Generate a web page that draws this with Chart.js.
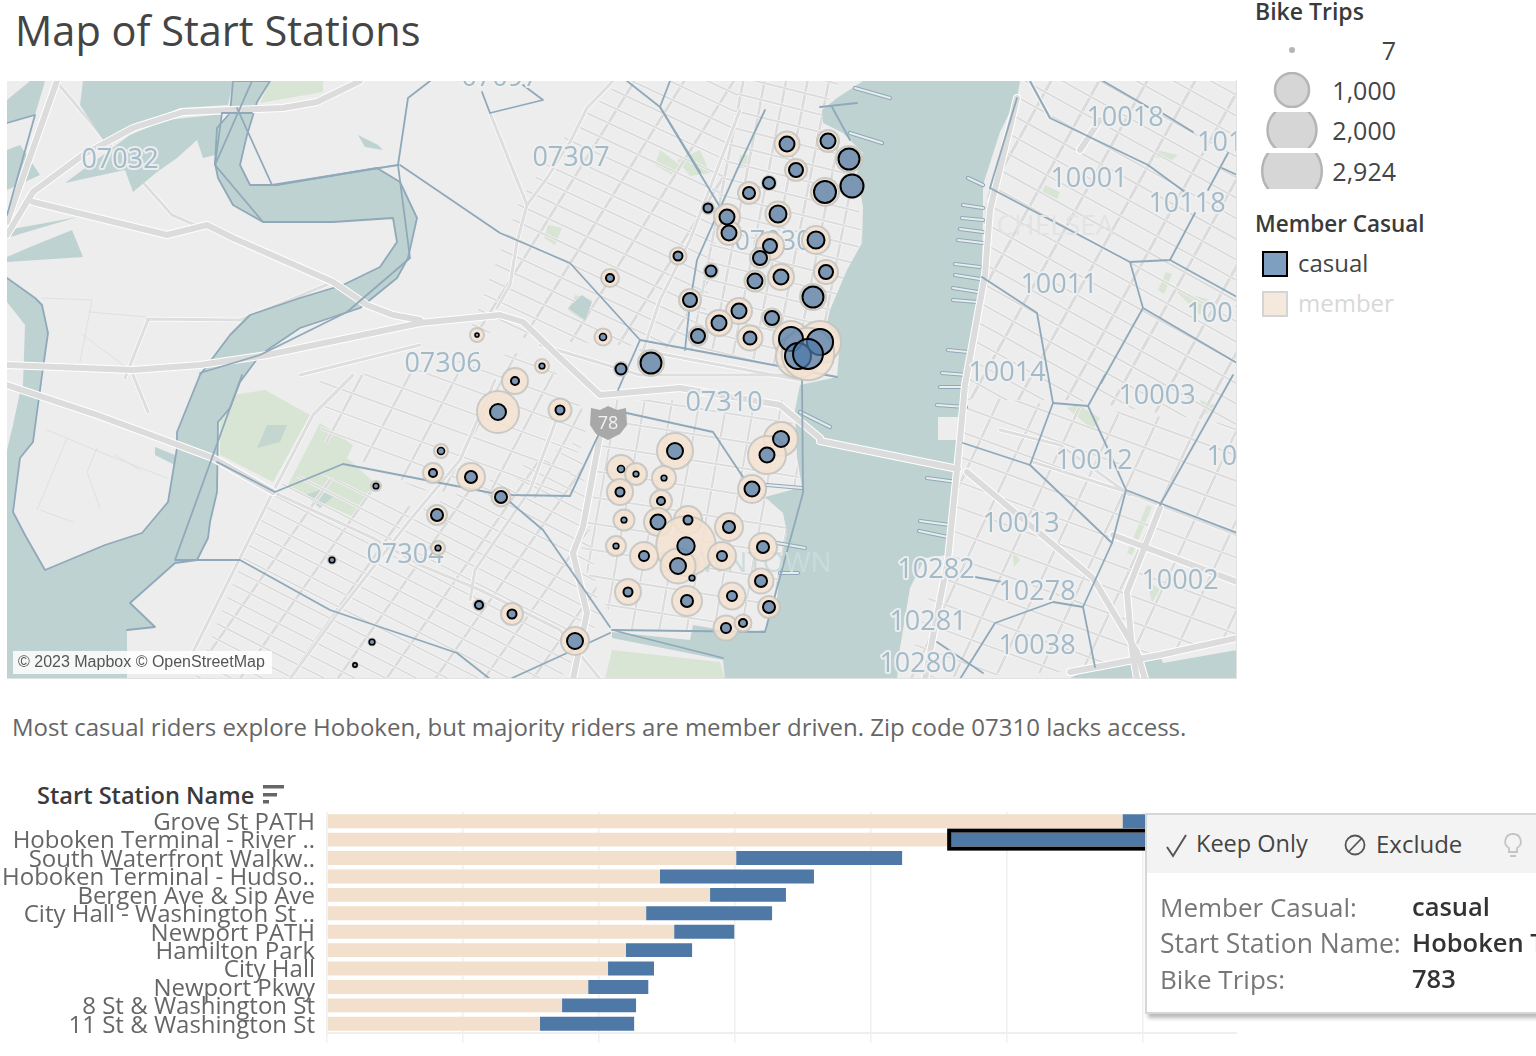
<!DOCTYPE html>
<html>
<head>
<meta charset="utf-8">
<title>Map of Start Stations</title>
<script src="https://cdn.jsdelivr.net/npm/chart.js@4"></script>
<style>
  html, body { margin:0; padding:0; width:1536px; height:1056px; overflow:hidden; background:#fff; }
  body { position:relative; font-family:'Open Sans',sans-serif; color:#333; }
  .abs { position:absolute; white-space:nowrap; line-height:1; }
  canvas { position:absolute; display:block; }
  #tip { position:absolute; left:1145px; top:813px; width:400px; height:197px; background:#fff; border:2px solid #d6d6d6; box-shadow:3px 4px 4px rgba(0,0,0,.28); overflow:hidden; }
  #tipHead { position:absolute; left:0; top:0; right:0; height:58px; background:#f3f3f3; }
</style>
</head>
<body>
<div class="abs" id="title" style="left:15px;top:10px;font-size:41.5px;color:#444;">Map of Start Stations</div>
<div class="abs" id="subtitle" style="left:12px;top:715px;font-size:24px;color:#666;">Most casual riders explore Hoboken, but majority riders are member driven. Zip code 07310 lacks access.</div>
<div class="abs" id="axisTitle" style="left:37px;top:784px;font-size:23.6px;color:#3a3a3a;font-weight:600;">Start Station Name</div>
<svg style="position:absolute;left:263px;top:785px" width="22" height="20"><rect x="0" y="0" width="21" height="3.5" fill="#666"/><rect x="0" y="8" width="14" height="3.5" fill="#666"/><rect x="0" y="15" width="6" height="3.5" fill="#666"/></svg>

<canvas id="mapChart" width="1230" height="598" style="left:7px;top:81px"></canvas>
<canvas id="barChart" width="1237" height="240" style="left:0;top:805px"></canvas>
<div style="position:absolute;left:1236px;top:80px;width:1px;height:599px;background:#e2e2e2"></div>
<div style="position:absolute;left:7px;top:678px;width:1230px;height:1px;background:#e2e2e2"></div>
<div id="legend"></div>

<div id="tip">
  <div id="tipHead"></div>
  <svg style="position:absolute;left:18px;top:18px" width="24" height="26"><path d="M2 14 L8 23 L21 2" fill="none" stroke="#555" stroke-width="2"/></svg>
  <div class="abs" style="left:49px;top:17px;font-size:23.5px;color:#444">Keep Only</div>
  <svg style="position:absolute;left:197px;top:19px" width="24" height="24"><circle cx="11" cy="11" r="9.5" fill="none" stroke="#555" stroke-width="1.8"/><path d="M4.5 18 L18 4" stroke="#555" stroke-width="1.8"/></svg>
  <div class="abs" style="left:229px;top:17px;font-size:24px;color:#444">Exclude</div>
  <svg style="position:absolute;left:356px;top:17px" width="22" height="28"><path d="M10 2 a7.5 7.5 0 0 1 4 14 v4 h-8 v-4 a7.5 7.5 0 0 1 4 -14z M7 24 h6" fill="none" stroke="#c4c4c4" stroke-width="1.8"/></svg>
  <div class="abs tipK" style="left:13px;top:79px;font-size:26px;color:#777">Member Casual:</div>
  <div class="abs tipV" style="left:265px;top:79px;font-size:25.5px;color:#333;font-weight:600">casual</div>
  <div class="abs tipK" style="left:13px;top:115px;font-size:26.5px;color:#777">Start Station Name:</div>
  <div class="abs tipV" style="left:265px;top:115px;font-size:25.5px;color:#333;font-weight:600">Hoboken Terminal - River Street</div>
  <div class="abs tipK" style="left:13px;top:151px;font-size:26px;color:#777">Bike Trips:</div>
  <div class="abs tipV" style="left:265px;top:151px;font-size:25.5px;color:#333;font-weight:600">783</div>
</div>

<script>
// ---- bar chart data (bike trips per start station)
const barStations = ['Grove St PATH','Hoboken Terminal - River ..','South Waterfront Walkw..','Hoboken Terminal - Hudso..','Bergen Ave & Sip Ave','City Hall - Washington St ..','Newport PATH','Hamilton Park','City Hall','Newport Pkwy','8 St & Washington St','11 St & Washington St'];
const barMember = [2924,2287,1504,1224,1408,1173,1276,1099,1033,960,864,783];
const barCasual = [290,783,610,566,279,463,221,243,169,221,272,346];
const barTicks = [0,500,1000,1500,2000,2500,3000];

// ---- map stations, position in map units and trips per rider type
const stationX = [787,828,849,796,769,749,825,852,778,708,727,729,816,770,760,678,711,826,781,755,610,813,690,739,772,719,698,750,791,820,798,808,603,651,621,477,542,515,498,560,441,433,471,376,501,437,438,332,479,512,575,372,355,781,767,675,621,636,664,620,752,661,624,658,688,729,616,686,763,644,722,678,692,761,628,732,687,769,726,743];
const stationY = [144,141,159,170,183,193,192,186,214,208,217,233,240,246,258,256,271,272,277,281,278,297,300,311,318,323,336,338,339,342,356,354,337,363,369,335,366,381,412,410,451,473,477,486,497,515,548,560,605,614,641,642,665,439,455,451,469,474,478,492,489,501,520,522,520,527,546,546,547,556,556,566,578,581,592,596,601,607,628,623];
const stationCasual = [222,222,407,197,151,151,443,481,278,93,222,222,278,197,197,93,130,197,222,222,77,407,197,222,197,222,197,173,520,610,603,783,62,407,130,28,45,77,249,93,62,77,151,45,151,151,45,45,77,93,249,45,30,249,222,249,62,45,45,93,222,77,45,222,93,151,45,290,151,111,111,249,45,151,93,111,151,151,111,77];
const stationMember = [561,443,603,443,197,443,693,520,561,151,603,520,693,693,372,278,197,520,603,407,308,603,443,603,339,603,339,561,1111,1504,1629,2287,278,603,197,197,197,603,1490,481,197,372,693,111,339,372,197,77,130,443,693,62,38,997,1231,1111,693,443,520,603,693,443,407,693,693,693,372,2924,693,693,693,1054,45,561,603,647,788,443,561,278];

// ---- legend
const sizeLegendValues = [7,1000,2000,2924];
const sizeLegendLabels = ['7','1,000','2,000','2,924'];
const riderTypes = ['casual','member'];

// ---- base map geometry, in map units
const hudson = [[863,81],[1020,81],[1017,98],[1000,132],[983,185],[983,215],[982,275],[975,315],[967,385],[963,442],[957,482],[950,525],[947,555],[925,558],[910,588],[900,648],[897,679],[725,679],[723,660],[612,638],[612,632],[690,640],[693,625],[740,633],[765,630],[777,600],[780,567],[787,533],[783,513],[765,497],[802,487],[797,457],[795,410],[800,385],[837,377],[840,343],[827,323],[830,310],[847,270],[862,243],[863,207],[857,173],[863,153],[843,133],[823,123],[822,110],[837,98]];
const hackensack = [[7,679],[127,679],[127,630],[155,627],[130,603],[175,563],[197,560],[208,538],[210,522],[217,492],[218,422],[230,408],[240,382],[260,355],[300,328],[360,308],[397,278],[408,258],[417,218],[400,182],[377,168],[277,185],[250,185],[240,165],[247,135],[257,102],[270,81],[233,81],[230,113],[217,128],[215,163],[218,178],[233,205],[263,222],[333,222],[393,218],[397,242],[380,267],[343,285],[300,298],[250,315],[230,335],[200,375],[177,432],[177,448],[168,502],[142,533],[105,545],[45,570],[25,535],[13,512],[20,458],[33,442],[42,375],[48,333],[42,305],[35,298],[7,278]];
const otherWater = [
  [[83,81],[233,81],[228,105],[180,108],[128,130],[105,143],[90,120],[80,105]],
  [[233,113],[222,113],[215,155],[203,158],[197,140],[177,158],[157,172],[133,192],[125,170],[65,183],[130,135],[165,120]],
  [[7,100],[30,81],[45,81],[35,115],[7,122]],
  [[7,150],[20,145],[40,175],[7,190]],
  [[7,257],[30,247],[72,230],[83,257],[7,262]],
  [[7,230],[78,217],[40,228],[7,238]],
  [[568,308],[582,295],[592,302],[585,320]],
  [[358,135],[378,145],[383,150],[365,147]],
  [[1068,679],[1095,667],[1160,655],[1163,663],[1237,650],[1237,679]],
  [[155,447],[175,455],[175,465],[155,455]]
];
const landOnWater = [
  [[7,302],[25,325],[23,385],[20,392],[13,425],[7,450]],
  [[938,417],[963,417],[963,440],[938,440]]
];
const parks = [
  [[233,395],[265,390],[310,415],[273,482],[220,455],[220,418]],
  [[320,423],[353,445],[347,458],[377,485],[353,517],[287,487]],
  [[270,81],[323,81],[323,92],[260,103]],
  [[612,650],[720,662],[725,679],[605,679]],
  [[677,160],[700,150],[710,173],[690,176]],
  [[1166,272],[1172,274],[1164,294],[1158,290]],
  [[1067,408],[1078,405],[1100,418],[1093,430]],
  [[1147,505],[1152,507],[1132,555],[1127,553]],
  [[985,205],[990,205],[988,245],[984,245]],
  [[1148,580],[1160,590],[1152,603],[1150,595]],
  [[575,295],[592,300],[585,322],[568,310]],
  [[548,225],[562,228],[555,245],[544,238]],
  [[1012,548],[1020,560],[1014,567]],
  [[1157,150],[1178,155],[1172,160],[1155,157]],
  [[1045,185],[1060,192],[1057,199],[1042,192]],
  [[1200,400],[1215,405],[1205,415]],
  [[1175,290],[1210,300],[1200,315]],
  [[660,150],[680,165],[672,175],[655,165]],
  [[740,155],[750,155],[748,168],[738,168]]
];
const parkPonds = [[[267,425],[287,425],[280,442],[257,448]],[[305,495],[320,508],[333,497],[320,490]]];

// street grids: clip area, then families of parallel streets [angle, spacing, width]
const streetGrids = [
  { area:[[470,330],[520,200],[570,130],[620,81],[740,81],[700,350],[540,340]], lines:[[-58,42,3.2],[25,16,2]] },
  { area:[[740,81],[840,81],[822,110],[855,170],[862,240],[830,310],[835,375],[690,350]], lines:[[-79,21,2.8],[14,17,2]] },
  { area:[[600,400],[790,400],[800,490],[780,600],[750,630],[620,630],[580,560]], lines:[[-80,27,2.4],[9,26,2]] },
  { area:[[195,679],[270,490],[310,470],[420,510],[580,440],[600,620],[560,679]], lines:[[-55,40,3],[27,14,1.8]] },
  { area:[[320,380],[540,350],[590,420],[560,500],[420,490],[320,440]], lines:[[-62,42,2.8],[20,22,1.8]] },
  { area:[[1020,81],[1237,81],[1237,425],[1075,400],[1040,400],[965,400],[982,215]], lines:[[-61,42,3.4],[29,18,2]] },
  { area:[[965,395],[1237,425],[1237,640],[1060,672],[905,679],[950,525]], lines:[[-65,38,2.8],[20,24,2]] }
];
const faintRoads = [
  [[42,298],[92,300],[80,362]],[[90,312],[147,317]],[[83,335],[127,368]],[[67,438],[37,510]],
  [[47,430],[100,452],[167,478]],[[40,510],[73,522]],[[97,448],[87,472],[100,508]],[[115,455],[140,470]]
];
const majorRoads = [
  [[7,235],[33,192],[83,155],[133,128],[183,112],[283,108],[317,102],[360,81]],
  [[57,81],[7,222]],
  [[33,202],[167,235],[207,225],[233,238],[283,260],[333,282],[367,305],[393,315],[420,320]],
  [[7,365],[133,370],[200,365],[267,355],[420,323],[500,315],[523,322],[557,355],[600,395],[680,388],[780,405],[820,438]],
  [[820,441],[958,469]],
  [[603,420],[583,527],[573,553],[587,613],[573,679]],
  [[1017,98],[990,210],[985,275],[965,385],[960,440],[955,490],[948,560],[938,610],[925,679]],
  [[967,472],[1093,578],[1137,652],[1145,679]],
  [[1070,672],[1160,655],[1237,638]],
  [[1160,508],[1127,592],[1132,650],[1137,679]],
  [[1113,535],[1237,582]],
  [[1080,150],[1100,120]],
  [[7,385],[97,415],[213,458],[273,492]]
];
const secondRoads = [
  [[613,81],[587,108],[570,142],[547,178],[527,205],[517,242],[510,285],[497,308]],
  [[353,375],[313,415],[273,492],[233,572],[193,652]],
  [[273,492],[373,538],[420,565],[480,590],[560,630],[600,679]],
  [[1033,462],[1127,492],[1237,535]],
  [[300,375],[420,345]],
  [[148,412],[133,375],[133,370]],
  [[56,81],[107,142],[172,215],[195,225]],
  [[148,320],[147,319],[240,320],[290,300],[333,282]],
  [[148,320],[125,378]],
  [[540,345],[640,375],[790,375]],
  [[640,360],[660,300],[690,240],[740,110]],
  [[490,113],[527,205]],
  [[495,380],[460,460],[410,520],[340,610],[290,679]],
  [[560,410],[530,490],[475,570],[470,600]],
  [[1000,430],[1060,445],[1130,495]],
  [[800,380],[640,350]],
  [[1050,118],[1030,81]]
];
const zipLines = [
  [[7,123],[35,115],[7,215]],
  [[252,81],[215,165],[263,222]],
  [[222,113],[252,113]],[[222,113],[215,165]],
  [[237,108],[272,185],[398,165]],
  [[398,165],[408,98],[430,81]],
  [[398,165],[410,258],[347,312],[260,355],[200,373]],
  [[242,375],[175,560],[240,560],[330,610],[457,653],[490,679]],
  [[217,462],[275,492],[343,464],[492,493],[513,495],[570,496],[610,410]],
  [[510,502],[543,530],[610,627]],
  [[510,679],[567,653],[610,633]],
  [[400,165],[500,233],[570,263],[640,340],[837,377]],
  [[640,340],[618,390]],
  [[660,107],[720,207]],
  [[765,110],[737,170],[697,260],[690,303],[685,350]],
  [[627,81],[660,107],[700,172]],
  [[670,81],[660,107]],
  [[482,92],[490,113],[543,100],[523,85]],
  [[613,410],[713,432],[743,477]],
  [[802,378],[803,493],[765,632],[612,630],[723,658]],
  [[820,107],[857,103]],[[832,107],[850,140]],
  [[1030,81],[1050,118],[1148,165],[1185,192]],
  [[1162,113],[1193,132]],[[1103,81],[1148,107]],
  [[990,188],[1130,262],[1170,260],[1195,213]],
  [[1170,260],[1237,297]],
  [[1130,262],[1143,308],[1237,363]],
  [[1143,308],[1101,383]],
  [[1105,375],[1088,406]],
  [[1053,403],[1088,406],[1107,447],[1126,490],[1112,543],[1083,607],[1095,667]],
  [[1053,403],[1030,465]],
  [[982,277],[1037,313],[1053,403]],
  [[963,443],[1030,465],[1112,543]],
  [[1126,490],[1237,533]],
  [[1160,505],[1233,375]],
  [[1083,607],[1053,602],[995,623],[960,679]],
  [[975,577],[1002,582]],[[937,642],[983,673]],
  [[1208,190],[1228,153]],[[1222,168],[1237,175]],
  [[1017,98],[990,188]]
];
const piers = [
  [[968,178],[983,185]],[[963,205],[983,208]],[[962,218],[983,220]],[[960,229],[983,232]],[[958,240],[983,243]],[[955,264],[980,267]],
  [[955,275],[980,279]],[[953,288],[978,292]],[[953,300],[977,302]],[[948,350],[968,352]],[[942,373],[967,375]],[[940,387],[967,387]],
  [[937,405],[966,407]],[[927,478],[957,482]],[[920,521],[950,525]],[[919,531],[948,537]],
  [[800,412],[830,427]],[[767,485],[802,488]],[[777,543],[805,548]],[[780,573],[798,573]],[[855,88],[890,98]],[[850,133],[882,143]]
];
const zipLabels = [['07032',120,160],['07307',571,158],['07306',443,364],['07310',724,403],['07304',405,555],['07097',500,78],['07030',773,242],['10018',1125,118],['10001',1089,179],['10118',1187,204],['1014',1228,143],['10011',1059,285],['10010',1225,314],['10014',1007,373],['10003',1157,396],['10012',1094,461],['10009',1245,457],['10013',1021,524],['10282',936,570],['10278',1037,592],['10002',1180,581],['10281',928,622],['10038',1037,646],['10280',918,664]];

// ---- helpers
const tripScale = 0.57;
function tripsToRadius(trips, borderInset) {
  return Math.max(1.2, tripScale * Math.sqrt(trips) - borderInset);
}
const memberPoints = stationX.map((x, i) => ({ x: x, y: stationY[i], r: tripsToRadius(stationMember[i], 1) }));
const casualPoints = stationX.map((x, i) => ({ x: x, y: stationY[i], r: tripsToRadius(stationCasual[i], 1) }));

// draws water, parks, streets and zip lines under the bubbles
const baseMapPlugin = {
  id: 'baseMap',
  beforeDatasetsDraw(chart) {
    const c = chart.ctx, xs = chart.scales.x, ys = chart.scales.y, a = chart.chartArea;
    const trace = pts => {
      c.beginPath();
      pts.forEach((p, i) => {
        const px = xs.getPixelForValue(p[0]), py = ys.getPixelForValue(p[1]);
        if (i === 0) c.moveTo(px, py); else c.lineTo(px, py);
      });
    };
    const fillShape = (pts, col) => { trace(pts); c.closePath(); c.fillStyle = col; c.fill(); };
    const strokeLine = (pts, col, w) => { trace(pts); c.strokeStyle = col; c.lineWidth = w; c.stroke(); };

    c.save();
    c.beginPath(); c.rect(a.left, a.top, a.right - a.left, a.bottom - a.top); c.clip();
    c.lineJoin = 'round'; c.lineCap = 'round';
    c.fillStyle = '#ededed'; c.fillRect(a.left, a.top, a.right - a.left, a.bottom - a.top);

    parks.forEach(p => fillShape(p, '#d9e5d4'));
    parkPonds.forEach(p => fillShape(p, '#c3d6cf'));
    faintRoads.forEach(r => strokeLine(r, '#e0e0e0', 1));

    streetGrids.forEach(g => {
      c.save();
      trace(g.area); c.closePath(); c.clip();
      g.lines.forEach(f => {
        const ang = f[0] * Math.PI / 180, dx = Math.cos(ang), dy = Math.sin(ang);
        const cx = 620, cy = 380;
        for (let off = -1700; off <= 1700; off += f[1]) {
          const sx = cx - dy * off, sy = cy + dx * off;
          const seg = [[sx - dx * 1800, sy - dy * 1800], [sx + dx * 1800, sy + dy * 1800]];
          strokeLine(seg, '#fbfbfb', f[2] + 1);
        }
        for (let off = -1700; off <= 1700; off += f[1]) {
          const sx = cx - dy * off, sy = cy + dx * off;
          const seg = [[sx - dx * 1800, sy - dy * 1800], [sx + dx * 1800, sy + dy * 1800]];
          strokeLine(seg, '#dbdbdb', f[2]);
        }
      });
      c.restore();
    });

    secondRoads.forEach(r => strokeLine(r, '#ffffff', 4.5));
    secondRoads.forEach(r => strokeLine(r, '#dedede', 3.2));

    const waterCol = '#bfd2d2', zipCol = '#8fa9ba';
    [hudson, hackensack].forEach(p => fillShape(p, waterCol));
    otherWater.forEach(p => fillShape(p, waterCol));
    landOnWater.forEach(p => fillShape(p, '#ededed'));
    piers.forEach(p => strokeLine(p, zipCol, 4.2));
    piers.forEach(p => strokeLine(p, '#e8ecea', 2));
    strokeLine(hackensack.slice(2), zipCol, 1.8);

    majorRoads.forEach(r => strokeLine(r, '#ffffff', 8));
    majorRoads.forEach(r => strokeLine(r, '#dcdcdc', 6));
    zipLines.forEach(z => strokeLine(z, zipCol, 1.8));

    // interstate shield
    fillShape([[591,408],[600,410],[608,406],[617,410],[626,408],[627,425],[620,434],[608,440],[596,434],[590,425]], '#a8a8a8');
    c.fillStyle = '#f2f2f2'; c.font = '18px "Open Sans"'; c.textAlign = 'center'; c.textBaseline = 'middle';
    c.fillText('78', xs.getPixelForValue(608), ys.getPixelForValue(424));

    // zip labels with a pale halo
    c.font = '27px "Open Sans"'; c.lineJoin = 'round';
    zipLabels.forEach(l => {
      const px = xs.getPixelForValue(l[1]), py = ys.getPixelForValue(l[2]);
      c.strokeStyle = 'rgba(240,240,240,.9)'; c.lineWidth = 4; c.strokeText(l[0], px, py);
      c.fillStyle = '#a3bac9'; c.fillText(l[0], px, py);
    });
    c.font = '28px "Open Sans"'; c.fillStyle = '#e3e3e3'; c.fillText('CHELSEA', xs.getPixelForValue(1055), ys.getPixelForValue(227));
    c.fillStyle = '#cbdada'; c.fillText('DOWNTOWN', xs.getPixelForValue(745), ys.getPixelForValue(564));

    // attribution box
    c.fillStyle = 'rgba(255,255,255,.85)';
    c.fillRect(xs.getPixelForValue(13), ys.getPixelForValue(651), 259, 23);
    c.fillStyle = '#555'; c.font = '16px "Liberation Sans"'; c.textAlign = 'left';
    c.fillText('© 2023 Mapbox © OpenStreetMap', xs.getPixelForValue(18), ys.getPixelForValue(663));
    c.restore();
  }
};

new Chart(document.getElementById('mapChart').getContext('2d'), {
  type: 'bubble',
  data: {
    datasets: [
      { label: 'casual', data: casualPoints, backgroundColor: 'rgba(78,121,167,.72)', borderColor: '#000', borderWidth: ctx => (ctx.raw && ctx.raw.r < 4 ? 1.6 : 2) },
      { label: 'member', data: memberPoints, backgroundColor: 'rgba(243,226,208,.85)', borderColor: 'rgba(195,195,192,.85)', borderWidth: 2 }
    ]
  },
  options: {
    responsive: false, animation: false, events: [],
    layout: { padding: 0, autoPadding: false },
    plugins: { legend: { display: false }, tooltip: { enabled: false } },
    scales: {
      x: { type: 'linear', min: 7, max: 1237, display: false },
      y: { type: 'linear', min: 81, max: 679, reverse: true, display: false }
    }
  },
  plugins: [baseMapPlugin]
});

// black selection box around the bar the tooltip belongs to
const selectedBarPlugin = {
  id: 'selectedBar',
  afterDatasetsDraw(chart) {
    const bar = chart.getDatasetMeta(1).data[1], c = chart.ctx;
    const h = bar.height / 2;
    c.save();
    c.strokeStyle = '#000'; c.lineWidth = 4;
    c.strokeRect(bar.base, bar.y - h - 2, bar.x - bar.base + 2, bar.height + 4);
    c.restore();
  }
};

new Chart(document.getElementById('barChart').getContext('2d'), {
  type: 'bar',
  data: {
    labels: barStations,
    datasets: [
      { label: 'member', data: barMember, backgroundColor: '#f2e0cd', barPercentage: .76, categoryPercentage: 1 },
      { label: 'casual', data: barCasual, backgroundColor: '#4e78a6', barPercentage: .76, categoryPercentage: 1 }
    ]
  },
  options: {
    indexAxis: 'y', responsive: false, animation: false, events: [],
    layout: { padding: { top: 7, bottom: 2, left: 0, right: 0 }, autoPadding: false },
    plugins: { legend: { display: false }, tooltip: { enabled: false } },
    scales: {
      x: {
        stacked: true, min: 0, max: 3345,
        afterBuildTicks(axis) { axis.ticks = barTicks.map(v => ({ value: v })); },
        afterFit(axis) { axis.height = 10; },
        grid: { color: '#f0f0f0', lineWidth: 1.5, tickLength: 10, drawTicks: true },
        border: { color: '#efefef', width: 2 },
        ticks: { display: false }
      },
      y: {
        stacked: true,
        afterFit(axis) { axis.width = 327; axis.paddingTop = 0; axis.paddingBottom = 0; },
        grid: { display: false, drawTicks: false },
        border: { display: false },
        ticks: { autoSkip: false, padding: 12, labelOffset: 2, color: '#666', font: { family: 'Open Sans', size: 24 } }
      }
    }
  },
  plugins: [selectedBarPlugin]
});

// ---- legends on the right
const legend = document.getElementById('legend');
function addText(txt, left, top, size, color, weight, right) {
  const d = document.createElement('div');
  d.className = 'abs';
  d.textContent = txt;
  d.style.cssText = (right ? 'right:' + (1536 - left) + 'px' : 'left:' + left + 'px') + ';top:' + top + 'px;font-size:' + size + 'px;color:' + color + ';font-weight:' + (weight || 400);
  legend.appendChild(d);
}
addText('Bike Trips', 1255, 0, 23, '#3a3a3a', 600);
const legendRowY = [50, 90, 130, 171];
sizeLegendValues.forEach((v, i) => {
  const r = i === 0 ? 4 : tripScale * Math.sqrt(v);
  const cy = legendRowY[i];
  const ns = 'http://www.w3.org/2000/svg';
  const svg = document.createElementNS(ns, 'svg');
  svg.setAttribute('width', 80); svg.setAttribute('height', 36);
  svg.style.cssText = 'position:absolute;left:1252px;top:' + (cy - 18) + 'px';
  const circ = document.createElementNS(ns, 'circle');
  circ.setAttribute('cx', 40); circ.setAttribute('cy', 18); circ.setAttribute('r', r - 1);
  circ.setAttribute('fill', i === 0 ? '#b5b5b5' : '#d6d6d6'); circ.setAttribute('stroke', '#b5b5b5'); circ.setAttribute('stroke-width', i === 0 ? 0 : 2.5);
  svg.appendChild(circ); legend.appendChild(svg);
  addText(sizeLegendLabels[i], 1396, cy - 12, 25, '#444', 400, true);
});
addText('Member Casual', 1255, 213, 22.5, '#3a3a3a', 600);
riderTypes.forEach((t, i) => {
  const top = 251 + i * 40;
  const s = document.createElement('div');
  s.style.cssText = 'position:absolute;left:1262px;top:' + top + 'px;width:22px;height:22px;border:2px solid ' + (i ? '#d4d4d4' : '#000') + ';background:' + (i ? '#f5e9dd' : '#7f9fc1');
  legend.appendChild(s);
  addText(t, 1298, top, 24, i ? '#d8d8d8' : '#444');
});
</script>
</body>
</html>
